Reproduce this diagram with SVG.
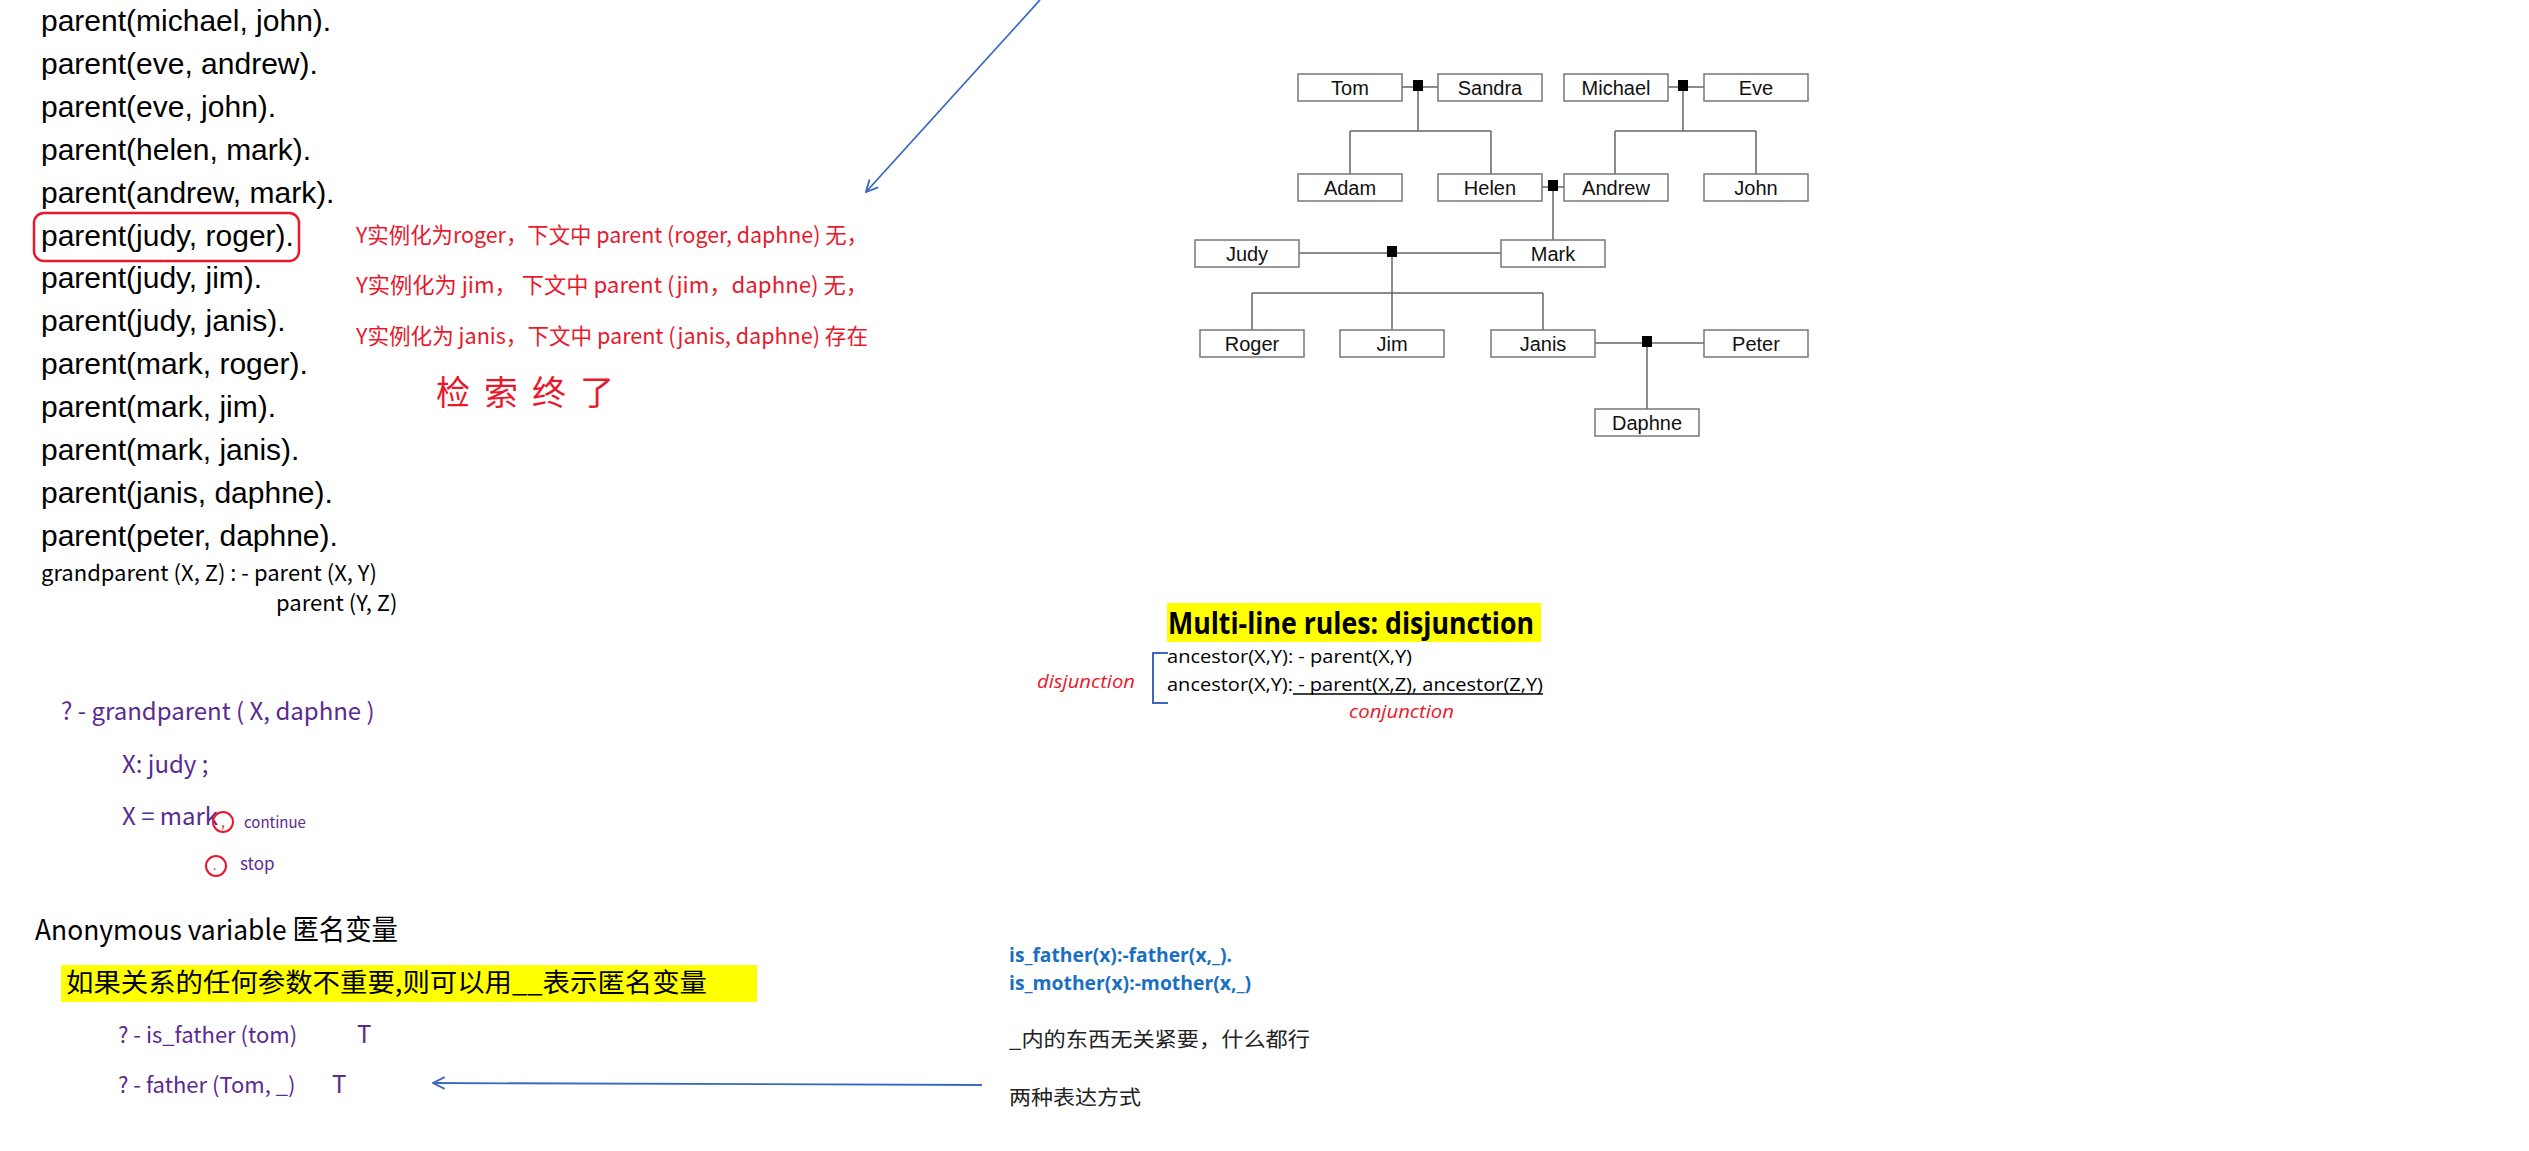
<svg xmlns="http://www.w3.org/2000/svg" width="2529" height="1151" viewBox="0 0 2529 1151">
<style>
.fact{font-family:"Liberation Sans",Arial,sans-serif;font-size:30px;fill:#000}
.hw{font-family:"Noto Sans CJK SC",sans-serif}
.red{fill:#e8192c}
.pur{fill:#5a2a91}
.box{fill:#fff;stroke:#777;stroke-width:1.5}
.nt{font-family:"Liberation Sans",Arial,sans-serif;font-size:20px;fill:#111;text-anchor:middle}
.ln{stroke:#666;stroke-width:1.5;fill:none}
.sq{fill:#000}
.cal{font-family:"Open Sans","Liberation Sans",sans-serif}
</style>
<defs>
<marker id="ah" viewBox="0 0 12 12" refX="11" refY="6" markerWidth="14" markerHeight="14" markerUnits="userSpaceOnUse" orient="auto"><path d="M1,1 L11,6 L1,11" fill="none" stroke="#3a68c0" stroke-width="1.6"/></marker>
</defs>
<rect width="2529" height="1151" fill="#fff"/>
<g id="facts" class="fact">
<text x="41" y="31">parent(michael, john).</text>
<text x="41" y="74">parent(eve, andrew).</text>
<text x="41" y="117">parent(eve, john).</text>
<text x="41" y="160">parent(helen, mark).</text>
<text x="41" y="203">parent(andrew, mark).</text>
<text x="41" y="246">parent(judy, roger).</text>
<text x="41" y="288">parent(judy, jim).</text>
<text x="41" y="331">parent(judy, janis).</text>
<text x="41" y="374">parent(mark, roger).</text>
<text x="41" y="417">parent(mark, jim).</text>
<text x="41" y="460">parent(mark, janis).</text>
<text x="41" y="503">parent(janis, daphne).</text>
<text x="41" y="546">parent(peter, daphne).</text>
</g>
<rect x="34" y="213" width="265" height="48" rx="10" fill="none" stroke="#e8192c" stroke-width="2.5"/>
<g id="notes-red" class="hw red" font-size="22">
<text x="356" y="243" textLength="512" lengthAdjust="spacingAndGlyphs">Y实例化为roger，下文中 parent (roger, daphne) 无，</text>
<text x="356" y="293" textLength="512" lengthAdjust="spacingAndGlyphs">Y实例化为 jim，  下文中 parent (jim，daphne) 无，</text>
<text x="356" y="344" textLength="512" lengthAdjust="spacingAndGlyphs">Y实例化为 janis，下文中 parent (janis, daphne) 存在</text>
<text x="436" y="405" font-size="34" letter-spacing="14">检索终了</text>
</g>
<g id="grandparent" class="hw" font-size="22" fill="#000">
<text x="41" y="581">grandparent (X, Z) : - parent (X, Y)</text>
<text x="276" y="611">parent (Y, Z)</text>
</g>
<g id="query" class="hw pur" font-size="24">
<text x="61" y="720">?  - grandparent ( X, daphne )</text>
<text x="122" y="773">X: judy ;</text>
<text x="122" y="825">X = mark</text>
<text x="244" y="828" font-size="15">continue</text>
<text x="240" y="870" font-size="17">stop</text>
</g>
<circle cx="223" cy="822" r="10" fill="none" stroke="#e8192c" stroke-width="2"/>
<circle cx="216" cy="866" r="10" fill="none" stroke="#e8192c" stroke-width="2"/>
<text x="221" y="827" class="hw red" font-size="14">,</text>
<text x="213" y="870" class="hw red" font-size="12">.</text>
<g id="anon">
<text x="35" y="940" class="hw" font-size="28" fill="#000" textLength="363" lengthAdjust="spacingAndGlyphs">Anonymous variable 匿名变量</text>
<rect x="61" y="965" width="696" height="37" fill="#ffff00"/>
<text x="66" y="992" class="hw" font-size="26" fill="#000" textLength="641" lengthAdjust="spacingAndGlyphs">如果关系的任何参数不重要,则可以用__表示匿名变量</text>
<text x="118" y="1043" class="hw pur" font-size="22">? -  is_father (tom)</text>
<text x="357" y="1043" class="hw pur" font-size="24">T</text>
<text x="118" y="1093" class="hw pur" font-size="22">? - father (Tom, _)</text>
<text x="332" y="1093" class="hw pur" font-size="24">T</text>
</g>
<g id="tree">
<g class="ln">
<path d="M1402,87 H1438 M1418,87 V131 M1350,131 H1491 M1350,131 V174 M1491,131 V174"/>
<path d="M1668,87 H1704 M1683,87 V131 M1615,131 H1756 M1615,131 V174 M1756,131 V174"/>
<path d="M1542,187 H1564 M1553,187 V240"/>
<path d="M1299,253 H1501 M1392,253 V330 M1252,293 H1543 M1252,293 V330 M1543,293 V330"/>
<path d="M1595,343 H1704 M1647,343 V409"/>
</g>
<g class="sq">
<rect x="1413" y="80" width="10" height="11"/>
<rect x="1678" y="80" width="10" height="11"/>
<rect x="1548" y="180" width="10" height="11"/>
<rect x="1387" y="246" width="10" height="11"/>
<rect x="1642" y="336" width="10" height="11"/>
</g>
<g id="n-tom"><rect class="box" x="1298" y="74" width="104" height="27"/><text class="nt" x="1350" y="95">Tom</text></g>
<g id="n-sandra"><rect class="box" x="1438" y="74" width="104" height="27"/><text class="nt" x="1490" y="95">Sandra</text></g>
<g id="n-michael"><rect class="box" x="1564" y="74" width="104" height="27"/><text class="nt" x="1616" y="95">Michael</text></g>
<g id="n-eve"><rect class="box" x="1704" y="74" width="104" height="27"/><text class="nt" x="1756" y="95">Eve</text></g>
<g id="n-adam"><rect class="box" x="1298" y="174" width="104" height="27"/><text class="nt" x="1350" y="195">Adam</text></g>
<g id="n-helen"><rect class="box" x="1438" y="174" width="104" height="27"/><text class="nt" x="1490" y="195">Helen</text></g>
<g id="n-andrew"><rect class="box" x="1564" y="174" width="104" height="27"/><text class="nt" x="1616" y="195">Andrew</text></g>
<g id="n-john"><rect class="box" x="1704" y="174" width="104" height="27"/><text class="nt" x="1756" y="195">John</text></g>
<g id="n-judy"><rect class="box" x="1195" y="240" width="104" height="27"/><text class="nt" x="1247" y="261">Judy</text></g>
<g id="n-mark"><rect class="box" x="1501" y="240" width="104" height="27"/><text class="nt" x="1553" y="261">Mark</text></g>
<g id="n-roger"><rect class="box" x="1200" y="330" width="104" height="27"/><text class="nt" x="1252" y="351">Roger</text></g>
<g id="n-jim"><rect class="box" x="1340" y="330" width="104" height="27"/><text class="nt" x="1392" y="351">Jim</text></g>
<g id="n-janis"><rect class="box" x="1491" y="330" width="104" height="27"/><text class="nt" x="1543" y="351">Janis</text></g>
<g id="n-peter"><rect class="box" x="1704" y="330" width="104" height="27"/><text class="nt" x="1756" y="351">Peter</text></g>
<g id="n-daphne"><rect class="box" x="1595" y="409" width="104" height="27"/><text class="nt" x="1647" y="430">Daphne</text></g>
</g>
<g id="rules">
<rect x="1167" y="603" width="374" height="39" fill="#ffff00"/>
<text x="1168" y="634" class="cal" font-size="30" font-weight="bold" textLength="366" lengthAdjust="spacingAndGlyphs">Multi-line rules: disjunction</text>
<text x="1167" y="663" class="cal" font-size="19" textLength="245" lengthAdjust="spacingAndGlyphs">ancestor(X,Y): - parent(X,Y)</text>
<text x="1167" y="691" class="cal" font-size="19" textLength="376" lengthAdjust="spacingAndGlyphs">ancestor(X,Y): - parent(X,Z), ancestor(Z,Y)</text>
<line x1="1293" y1="694" x2="1543" y2="694" stroke="#000" stroke-width="1.3"/>
<path d="M1168,653 H1153 V703 H1168" fill="none" stroke="#3a68c0" stroke-width="2"/>
<text x="1037" y="688" class="cal red" font-size="19" font-style="italic" textLength="98" lengthAdjust="spacingAndGlyphs">disjunction</text>
<text x="1349" y="718" class="cal red" font-size="19" font-style="italic" textLength="105" lengthAdjust="spacingAndGlyphs">conjunction</text>
</g>
<g id="isfather">
<text x="1009" y="962" class="cal" font-size="19" font-weight="bold" fill="#1a6fc0" textLength="223" lengthAdjust="spacingAndGlyphs">is_father(x):-father(x,_).</text>
<text x="1009" y="990" class="cal" font-size="19" font-weight="bold" fill="#1a6fc0" textLength="242" lengthAdjust="spacingAndGlyphs">is_mother(x):-mother(x,_)</text>
<text x="1009" y="1047" class="hw" font-size="20" fill="#222" textLength="301" lengthAdjust="spacingAndGlyphs">_内的东西无关紧要，什么都行</text>
<text x="1009" y="1105" class="hw" font-size="20" fill="#222" textLength="132" lengthAdjust="spacingAndGlyphs">两种表达方式</text>
</g>
<g id="connectors" stroke="#3a68c0" stroke-width="1.8" fill="none">
<line x1="1040" y1="0" x2="866" y2="192" marker-end="url(#ah)"/>
<line x1="982" y1="1085" x2="433" y2="1083" marker-end="url(#ah)"/>
</g>
</svg>
